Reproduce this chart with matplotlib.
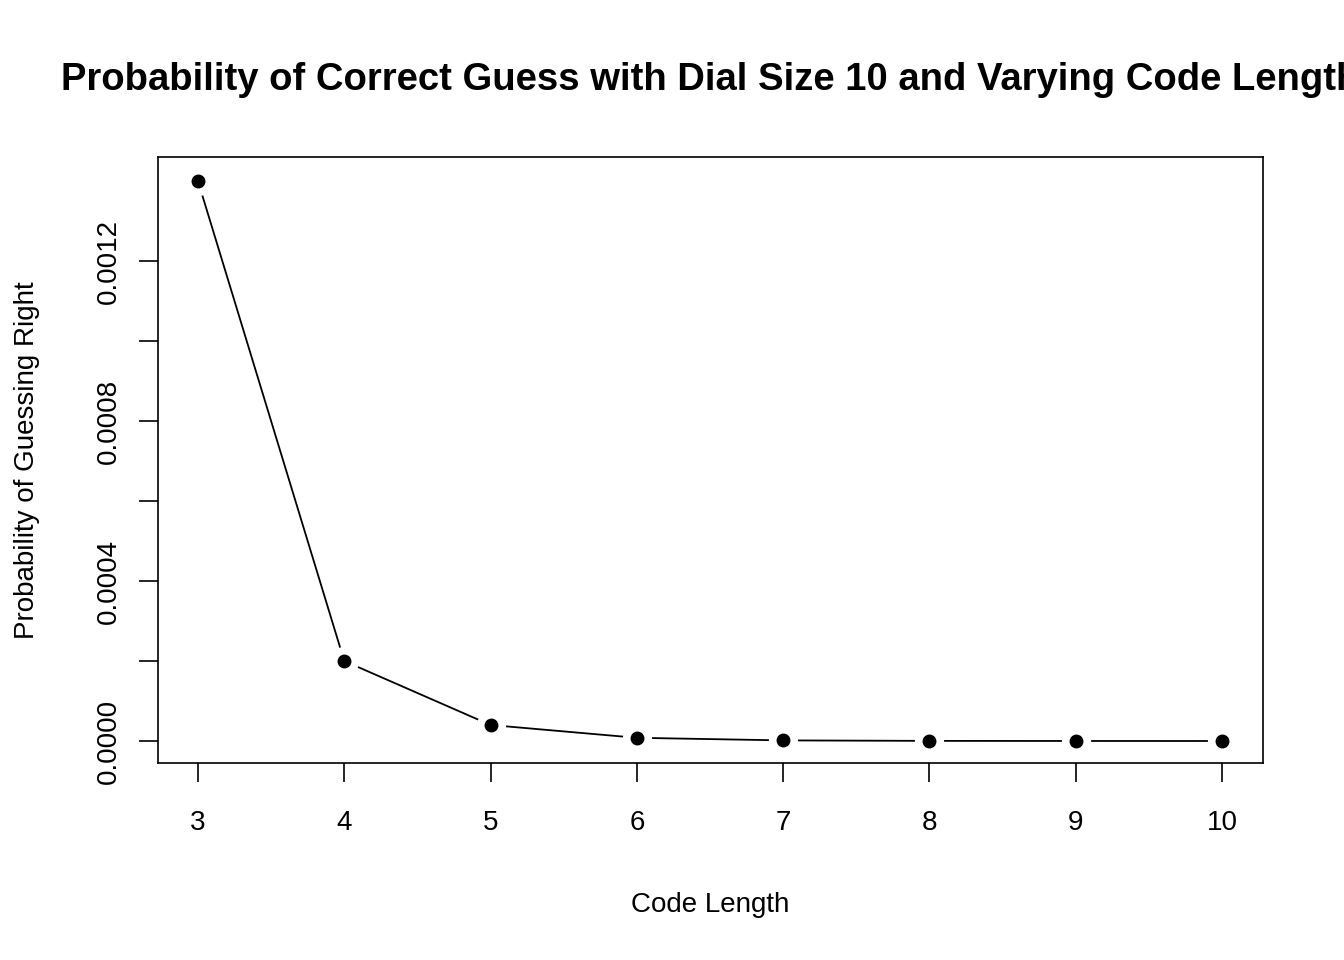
import matplotlib
matplotlib.use("Agg")
import matplotlib.pyplot as plt

code_length = [3, 4, 5, 6, 7, 8, 9, 10]
prob = [0.0014, 0.0002, 0.00004, 0.000008, 0.0000015, 0.0000003, 0.00000006, 0.00000001]
yticks = [0, 0.0002, 0.0004, 0.0006, 0.0008, 0.0010, 0.0012]
ylabels = ["0.0000", "", "0.0004", "", "0.0008", "", "0.0012"]

plt.rcParams['font.family'] = ['Liberation Sans', 'DejaVu Sans']
fig = plt.figure(figsize=(13.44, 9.6), dpi=100)
ax = fig.add_axes([158/1344, 1-763/960, (1263-158)/1344, (763-157)/960])
ax.plot(code_length, prob, color='black', lw=1.3, zorder=1)
ax.plot(code_length, prob, 'o', ms=20, color='white', mec='white', zorder=2, ls='none')
ax.plot(code_length, prob, 'o', ms=9, color='black', zorder=3, ls='none')
ax.set_xlim(2.727, 10.28)
ax.set_ylim(-0.000055, 0.00146)
ax.set_xticks(code_length)
ax.set_xticklabels([str(v) for v in code_length], fontsize=20)
ax.set_yticks(yticks)
ax.set_yticklabels(ylabels, fontsize=20, rotation=90, va='center')
ax.tick_params(length=14, width=1.2, pad=12)
ax.tick_params(axis='x', pad=20)
for s in ax.spines.values():
    s.set_linewidth(1.2)
ax.set_xlabel("Code Length", fontsize=20, labelpad=40)
ax.set_ylabel("Probability of Guessing Right", fontsize=20, labelpad=40)
fig.text(710/1344, 1-80/960, "Probability of Correct Guess with Dial Size 10 and Varying Code Length",
         fontsize=27.5, fontweight='bold', ha='center', va='center')
fig.savefig("out.png", dpi=100)
